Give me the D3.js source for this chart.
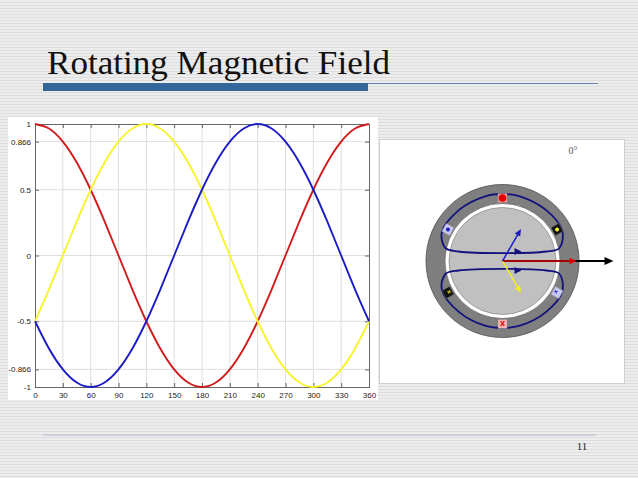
<!DOCTYPE html>
<html>
<head>
<meta charset="utf-8">
<script src="https://cdn.jsdelivr.net/npm/d3@7/dist/d3.min.js"></script>
<style>
  body { margin: 0; padding: 0; overflow: hidden; }
  svg { display: block; }
</style>
</head>
<body>
<svg id="slide" width="638" height="478"></svg>
<script>
// values (angle in degrees, per-phase value)
const angles = [0, 15, 30, 45, 60, 75, 90, 105, 120, 135, 150, 165, 180,
  195, 210, 225, 240, 255, 270, 285, 300, 315, 330, 345, 360];
const redValues = [1, .966, .866, .707, .5, .259, 0, -.259, -.5, -.707, -.866, -.966, -1,
  -.966, -.866, -.707, -.5, -.259, 0, .259, .5, .707, .866, .966, 1];
const yellowValues = [-.5, -.259, 0, .259, .5, .707, .866, .966, 1, .966, .866, .707, .5,
  .259, 0, -.259, -.5, -.707, -.866, -.966, -1, -.966, -.866, -.707, -.5];
const blueValues = [-.5, -.707, -.866, -.966, -1, -.966, -.866, -.707, -.5, -.259, 0, .259, .5,
  .707, .866, .966, 1, .966, .866, .707, .5, .259, 0, -.259, -.5];

const xTicks = [0, 30, 60, 90, 120, 150, 180, 210, 240, 270, 300, 330, 360];
const yTicks = [-1, -0.866, -0.5, 0, 0.5, 0.866, 1];

// phase axes of the stator windings (degrees)
const phaseNames = ['red', 'yellow', 'blue'];
const phaseAxes = [0, 120, 240];

const colors = { red: '#d01c1c', yellow: '#f7f42e', blue: '#1c1cc4' };

const svg = d3.select('#slide');

// striped slide background
const defs = svg.append('defs');
const pat = defs.append('pattern')
  .attr('id', 'stripes')
  .attr('width', 4).attr('height', 3)
  .attr('patternUnits', 'userSpaceOnUse');
pat.append('rect').attr('width', 4).attr('height', 3).attr('fill', '#ededed');
pat.append('rect').attr('y', 2).attr('width', 4).attr('height', 1).attr('fill', '#dddddd');

svg.append('rect').attr('width', 638).attr('height', 478).attr('fill', 'url(#stripes)');

// title
svg.append('text')
  .attr('x', 47).attr('y', 73.5)
  .attr('font-family', 'Liberation Serif, Times New Roman, serif')
  .attr('font-size', 34.5)
  .attr('fill', '#111')
  .attr('textLength', 343)
  .attr('lengthAdjust', 'spacingAndGlyphs')
  .text('Rotating Magnetic Field');

svg.append('rect')
  .attr('x', 43).attr('y', 83).attr('width', 325).attr('height', 8)
  .attr('fill', '#336699');
svg.append('line')
  .attr('x1', 368).attr('x2', 598).attr('y1', 83.5).attr('y2', 83.5)
  .attr('stroke', '#5f86b3').attr('stroke-width', 1);

// footer
svg.append('line')
  .attr('x1', 43).attr('x2', 596).attr('y1', 435).attr('y2', 435)
  .attr('stroke', '#c6c9d8').attr('stroke-width', 1.5);
svg.append('text')
  .attr('x', 582).attr('y', 450)
  .attr('text-anchor', 'middle')
  .attr('font-family', 'Liberation Serif, serif')
  .attr('font-size', 11)
  .attr('fill', '#222')
  .text('11');

// ---------- left: phase currents chart ----------
svg.append('rect')
  .attr('x', 8).attr('y', 117).attr('width', 370).attr('height', 283)
  .attr('fill', '#fff');

const x = d3.scaleLinear().domain([0, 360]).range([35, 369]);
const y = d3.scaleLinear().domain([-1, 1]).range([387, 124]);

const chart = svg.append('g').attr('class', 'chart');

// grid
chart.append('g')
  .selectAll('line')
  .data(xTicks.slice(1, -1))
  .enter().append('line')
  .attr('x1', d => x(d)).attr('x2', d => x(d))
  .attr('y1', y(-1)).attr('y2', y(1))
  .attr('stroke', '#dedede').attr('stroke-width', 1);
chart.append('g')
  .selectAll('line')
  .data(yTicks.slice(1, -1))
  .enter().append('line')
  .attr('x1', x(0)).attr('x2', x(360))
  .attr('y1', d => y(d)).attr('y2', d => y(d))
  .attr('stroke', '#dedede').attr('stroke-width', 1);

const axisFont = 'Liberation Sans, Arial, sans-serif';

chart.append('g')
  .attr('transform', `translate(0,${y(-1)})`)
  .call(d3.axisBottom(x).tickValues(xTicks).tickSize(-4).tickPadding(5).tickFormat(d3.format('d')));
chart.append('g')
  .attr('transform', `translate(${x(0)},0)`)
  .call(d3.axisLeft(y).tickValues(yTicks).tickSize(-4).tickPadding(4).tickFormat(d => String(d)));
chart.append('g')
  .attr('transform', `translate(0,${y(1)})`)
  .call(d3.axisTop(x).tickValues(xTicks).tickSize(-4).tickFormat(''));
chart.append('g')
  .attr('transform', `translate(${x(360)},0)`)
  .call(d3.axisRight(y).tickValues(yTicks).tickSize(-4).tickFormat(''));

chart.selectAll('.domain').attr('stroke', '#666');
chart.selectAll('.tick line').attr('stroke', '#666');
chart.selectAll('.tick text')
  .attr('font-family', axisFont)
  .attr('font-size', 8)
  .attr('fill', '#222');

const line = d3.line()
  .x((d, i) => x(angles[i]))
  .y(d => y(d))
  .curve(d3.curveNatural);

const series = [
  { name: 'red', values: redValues },
  { name: 'yellow', values: yellowValues },
  { name: 'blue', values: blueValues }
];

chart.append('g')
  .selectAll('path')
  .data(series)
  .enter().append('path')
  .attr('d', d => line(d.values))
  .attr('fill', 'none')
  .attr('stroke', d => colors[d.name])
  .attr('stroke-width', 1.9);

// ---------- right: stator / rotor diagram at 0 deg ----------
svg.append('rect')
  .attr('x', 379.5).attr('y', 139.5).attr('width', 245).attr('height', 244)
  .attr('fill', '#fff').attr('stroke', '#cfcfcf');

svg.append('text')
  .attr('x', 573).attr('y', 154)
  .attr('text-anchor', 'middle')
  .attr('font-family', 'Liberation Serif, serif')
  .attr('font-size', 10)
  .attr('fill', '#555')
  .text('0°');

const cx = 502.5, cy = 261;
const motor = svg.append('g').attr('transform', `translate(${cx},${cy})`);

motor.append('circle').attr('r', 76.5).attr('fill', '#7f7f7f').attr('stroke', '#4d4d4d').attr('stroke-width', 0.8);
motor.append('circle').attr('r', 57.5).attr('fill', '#fff').attr('stroke', '#555').attr('stroke-width', 0.6);
motor.append('circle').attr('r', 53.5).attr('fill', '#c0c0c0').attr('stroke', '#777').attr('stroke-width', 0.6);

// coil loops, built from polar geometry
const rad = a => a * Math.PI / 180;
const polar = (r, a) => [r * Math.cos(rad(a)), -r * Math.sin(rad(a))];
const loopPts = sign => {
  const pts = [155, 130, 105, 90, 75, 50, 27].map(a => polar(67, a));
  pts.push([57, -13], [44, -9.5], [-44, -9.5], [-57, -13]);
  return pts.map(p => [p[0], p[1] * sign]);
};
const loop = d3.line().curve(d3.curveCatmullRomClosed.alpha(0.5));
[1, -1].forEach(s => {
  motor.append('path')
    .attr('d', loop(loopPts(s)))
    .attr('fill', 'none')
    .attr('stroke', '#12127e')
    .attr('stroke-width', 1.8);
  motor.append('path')
    .attr('d', d3.line()([[12, -9.5 * s - 3.5], [19, -9.5 * s], [12, -9.5 * s + 3.5]]) + 'Z')
    .attr('fill', '#12127e');
});

// slots: [angle, fill, mark colour, mark type]
const slots = [
  [90, '#ff9a9a', '#e00000', 'dot'],
  [270, '#ffb3b3', '#e00000', 'x'],
  [150, '#c8c8f4', '#1c1cc4', 'dot'],
  [330, '#c8c8f4', '#1c1cc4', 'x'],
  [30, '#111', '#f7f42e', 'dot'],
  [210, '#111', '#f7f42e', 'x']
];
const slotG = motor.selectAll('.slot')
  .data(slots)
  .enter().append('g')
  .attr('class', 'slot')
  .attr('transform', d => {
    const p = polar(63, d[0]);
    return `translate(${p[0]},${p[1]}) rotate(${90 - d[0]})`;
  });
slotG.append('rect')
  .attr('x', -4.5).attr('y', -4.5).attr('width', 9).attr('height', 9)
  .attr('fill', d => d[1]).attr('stroke', '#888').attr('stroke-width', 0.4);
slotG.filter(d => d[3] === 'dot').append('circle')
  .attr('r', d => d[0] === 90 ? 3.8 : 2)
  .attr('fill', d => d[2]);
slotG.filter(d => d[3] === 'x').append('text')
  .attr('y', 3)
  .attr('text-anchor', 'middle')
  .attr('font-family', axisFont)
  .attr('font-weight', 'bold')
  .attr('font-size', d => d[0] === 270 ? 9 : 6)
  .attr('fill', d => d[2])
  .text('x');

// field vectors from the phase values at 0 deg
const L = 74;
const at0 = { red: redValues[0], yellow: yellowValues[0], blue: blueValues[0] };
const vecs = phaseNames.map((n, i) => {
  const v = at0[n];
  return { name: n, dx: v * L * Math.cos(rad(phaseAxes[i])), dy: -v * L * Math.sin(rad(phaseAxes[i])) };
});
const total = vecs.reduce((acc, v) => ({ dx: acc.dx + v.dx, dy: acc.dy + v.dy }), { dx: 0, dy: 0 });

function arrow(g, dx, dy, color, width, head) {
  const len = Math.hypot(dx, dy);
  const ux = dx / len, uy = dy / len;
  g.append('line')
    .attr('x1', 0).attr('y1', 0)
    .attr('x2', dx - ux * head * 0.8).attr('y2', dy - uy * head * 0.8)
    .attr('stroke', color).attr('stroke-width', width);
  const bx = dx - ux * head, by = dy - uy * head;
  const hw = head * 0.45;
  g.append('path')
    .attr('d', d3.line()([[dx, dy], [bx - uy * hw, by + ux * hw], [bx + uy * hw, by - ux * hw]]) + 'Z')
    .attr('fill', color);
}

arrow(motor, total.dx, total.dy, '#000', 1.8, 9);
vecs.forEach(v => {
  const c = v.name === 'yellow' ? '#f2ee1a' : (v.name === 'blue' ? '#1c1cc4' : '#e00000');
  arrow(motor, v.dx, v.dy, c, 1.5, 7);
});
</script>
</body>
</html>
